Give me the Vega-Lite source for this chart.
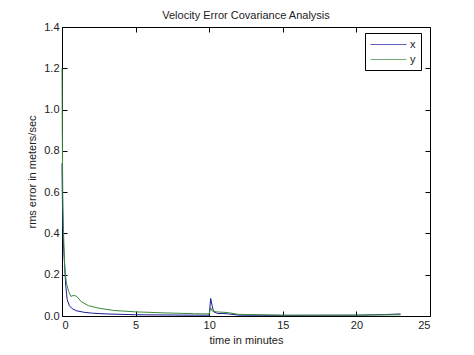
{
  "$schema": "https://vega.github.io/schema/vega-lite/v6.json",
  "width": 368,
  "height": 289,
  "autosize": {"type": "none"},
  "padding": {"left": 62, "top": 27, "right": 44, "bottom": 39},
  "background": "white",
  "title": {"text": "Velocity Error Covariance Analysis", "font": "Liberation Sans", "fontSize": 11, "fontWeight": "normal", "color": "#222", "offset": 0},
  "config": {
    "view": {"stroke": "black", "strokeWidth": 1},
    "axis": {"grid": false, "domain": false, "tickSize": -5, "tickColor": "#000", "labelFont": "Liberation Sans", "labelFontSize": 11, "labelColor": "#222", "titleFont": "Liberation Sans", "titleFontSize": 11, "titleFontWeight": "normal", "titleColor": "#222", "labelPadding": 8}
  },
  "data": {"values": [
    {"t": 0, "v": 0.74, "s": "x"},
    {"t": 0.02, "v": 0.6, "s": "x"},
    {"t": 0.05, "v": 0.45, "s": "x"},
    {"t": 0.1, "v": 0.35, "s": "x"},
    {"t": 0.15, "v": 0.28, "s": "x"},
    {"t": 0.25, "v": 0.15, "s": "x"},
    {"t": 0.35, "v": 0.08, "s": "x"},
    {"t": 0.5, "v": 0.05, "s": "x"},
    {"t": 0.7, "v": 0.035, "s": "x"},
    {"t": 1.0, "v": 0.025, "s": "x"},
    {"t": 1.5, "v": 0.018, "s": "x"},
    {"t": 2, "v": 0.014, "s": "x"},
    {"t": 3, "v": 0.01, "s": "x"},
    {"t": 4, "v": 0.008, "s": "x"},
    {"t": 5, "v": 0.006, "s": "x"},
    {"t": 7, "v": 0.005, "s": "x"},
    {"t": 9, "v": 0.004, "s": "x"},
    {"t": 10.0, "v": 0.004, "s": "x"},
    {"t": 10.1, "v": 0.085, "s": "x"},
    {"t": 10.2, "v": 0.05, "s": "x"},
    {"t": 10.3, "v": 0.02, "s": "x"},
    {"t": 10.6, "v": 0.012, "s": "x"},
    {"t": 11, "v": 0.012, "s": "x"},
    {"t": 11.3, "v": 0.01, "s": "x"},
    {"t": 12, "v": 0.004, "s": "x"},
    {"t": 15, "v": 0.003, "s": "x"},
    {"t": 20, "v": 0.004, "s": "x"},
    {"t": 22, "v": 0.007, "s": "x"},
    {"t": 23, "v": 0.01, "s": "x"},
    {"t": 0, "v": 1.2, "s": "y"},
    {"t": 0.02, "v": 0.9, "s": "y"},
    {"t": 0.05, "v": 0.6, "s": "y"},
    {"t": 0.1, "v": 0.42, "s": "y"},
    {"t": 0.15, "v": 0.3, "s": "y"},
    {"t": 0.2, "v": 0.22, "s": "y"},
    {"t": 0.3, "v": 0.16, "s": "y"},
    {"t": 0.45, "v": 0.12, "s": "y"},
    {"t": 0.6, "v": 0.095, "s": "y"},
    {"t": 0.8, "v": 0.1, "s": "y"},
    {"t": 1.0, "v": 0.095, "s": "y"},
    {"t": 1.3, "v": 0.07, "s": "y"},
    {"t": 1.8, "v": 0.05, "s": "y"},
    {"t": 2.5, "v": 0.038, "s": "y"},
    {"t": 3.5, "v": 0.027, "s": "y"},
    {"t": 5, "v": 0.02, "s": "y"},
    {"t": 7, "v": 0.015, "s": "y"},
    {"t": 9, "v": 0.011, "s": "y"},
    {"t": 10.0, "v": 0.01, "s": "y"},
    {"t": 10.1, "v": 0.04, "s": "y"},
    {"t": 10.2, "v": 0.025, "s": "y"},
    {"t": 10.5, "v": 0.02, "s": "y"},
    {"t": 11, "v": 0.018, "s": "y"},
    {"t": 11.4, "v": 0.015, "s": "y"},
    {"t": 12, "v": 0.008, "s": "y"},
    {"t": 15, "v": 0.004, "s": "y"},
    {"t": 20, "v": 0.004, "s": "y"},
    {"t": 23, "v": 0.006, "s": "y"}
  ]},
  "layer": [
    {
      "mark": {"type": "line", "strokeWidth": 1, "interpolate": "linear"},
      "encoding": {
        "x": {"field": "t", "type": "quantitative", "scale": {"domain": [0, 25], "nice": false}, "axis": {"title": "time in minutes", "values": [0, 5, 10, 15, 20, 25], "titlePadding": 4}},
        "y": {"field": "v", "type": "quantitative", "scale": {"domain": [0, 1.4], "nice": false}, "axis": {"title": "rms error in meters/sec", "values": [0, 0.2, 0.4, 0.6, 0.8, 1, 1.2, 1.4], "titlePadding": 6}},
        "color": {"field": "s", "type": "nominal", "scale": {"domain": ["x", "y"], "range": ["#1c1c96", "#3a8a3a"]},
          "legend": {"title": null, "orient": "none", "legendX": 303, "legendY": 6, "symbolType": "M-1,0H5", "symbolSize": 144, "symbolStrokeWidth": 1, "symbolOpacity": 0.7, "strokeColor": "black", "fillColor": "white", "padding": 5, "labelFont": "Liberation Sans", "labelFontSize": 11, "labelColor": "#222", "rowPadding": 3, "labelOffset": 27}},
        "order": {"field": "s"}
      }
    },
    {
      "mark": {"type": "rule", "opacity": 0},
      "encoding": {
        "x": {"field": "t", "type": "quantitative", "scale": {"domain": [0, 25], "nice": false}, "axis": {"orient": "top", "labels": false, "title": null, "values": [0, 5, 10, 15, 20, 25]}},
        "y": {"field": "v", "type": "quantitative", "scale": {"domain": [0, 1.4], "nice": false}, "axis": {"orient": "right", "labels": false, "title": null, "values": [0, 0.2, 0.4, 0.6, 0.8, 1, 1.2, 1.4]}}
      }
    }
  ],
  "resolve": {"axis": {"x": "independent", "y": "independent"}}
}
